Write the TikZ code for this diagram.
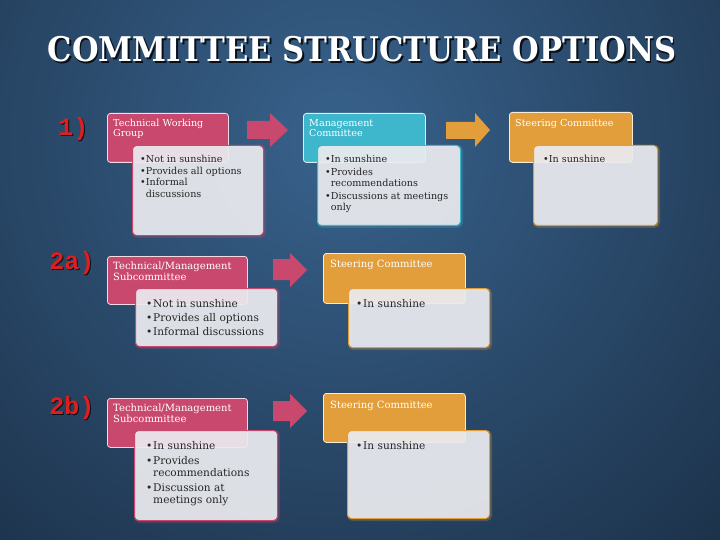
\documentclass[tikz,border=0pt]{standalone}
\usepackage{fontspec}
\setmainfont{DejaVu Serif}
\newfontfamily\monofnt{Liberation Mono}
\definecolor{pinkc}{RGB}{201,72,110}
\definecolor{tealc}{RGB}{62,182,204}
\definecolor{orangec}{RGB}{226,158,58}
\definecolor{detfill}{RGB}{234,235,239}
\definecolor{bgin}{RGB}{56,98,140}
\definecolor{bgout}{RGB}{12,22,36}
\definecolor{labred}{RGB}{225,30,30}
\definecolor{shadowc}{RGB}{10,16,26}
\tikzset{
  hdr/.style={draw=white!80!#1, line width=0.8pt, fill=#1, rounded corners=3pt, anchor=north west, inner sep=0pt},
  det/.style={draw=#1, line width=1pt, fill=detfill, fill opacity=0.93, rounded corners=4pt, anchor=north west, inner sep=0pt},
  glow/.style={draw=#1, line width=3pt, draw opacity=0.25, rounded corners=4pt, anchor=north west, inner sep=0pt},
  htextA/.style={text=white, font=\fontsize{9.6}{10.5}\selectfont, align=left, anchor=north west, inner sep=0pt},
  htextB/.style={text=white, font=\fontsize{10}{11}\selectfont, align=left, anchor=north west, inner sep=0pt},
  btextA/.style={text=black!85, font=\fontsize{9.6}{11.6}\selectfont, align=left, anchor=north west, inner sep=0pt},
  btextB/.style={text=black!85, font=\fontsize{9.6}{11}\selectfont, align=left, anchor=north west, inner sep=0pt},
  btextC/.style={text=black!85, font=\fontsize{10.6}{14.3}\selectfont, align=left, anchor=north west, inner sep=0pt},
  btextD/.style={text=black!85, font=\fontsize{10.6}{12.5}\selectfont, align=left, anchor=north west, inner sep=0pt},
  lab/.style={text=labred, font=\monofnt\bfseries\fontsize{25}{30}\selectfont, inner sep=0pt},
  ttl/.style={text=white, font=\bfseries\fontsize{34}{40}\selectfont, inner sep=0pt},
}
\newcommand{\bl}{\makebox[7pt][l]{\textbullet}}
\newcommand{\bi}{\hspace*{7pt}}
\newcommand{\shadowed}[2]{\makebox[0pt][l]{\hspace{#1}\raisebox{-#1}{\color{shadowc}#2}}#2}
\begin{document}
\begin{tikzpicture}[x=1pt,y=-1pt]
\useasboundingbox (0,0) rectangle (720,540);
% background
\fill[bgout] (0,0) rectangle (720,540);
\begin{scope}
  \clip (0,0) rectangle (720,540);
  \shade[inner color=bgin, outer color=bgout] (340,140) circle (880pt);
\end{scope}

% title
\node[ttl] (title) at (362,50) {\scalebox{0.9}[1]{\shadowed{2pt}{COMMITTEE STRUCTURE OPTIONS}}};

% labels
\node[lab] (l1) at (73.5,130) {\shadowed{1pt}{1)}};
\node[lab] (l2a) at (72,264) {\shadowed{1pt}{2a)}};
\node[lab] (l2b) at (72,409) {\shadowed{1pt}{2b)}};

% ---------- Row 1 ----------
\node[hdr=pinkc, minimum width=121pt, minimum height=49pt] (h1) at (107,113) {};
\node[htextA] (h1t) at (113,119) {Technical Working\\Group};
\node[glow=pinkc, minimum width=131pt, minimum height=90pt] (d1g) at (132,145) {};
\node[det=pinkc, minimum width=131pt, minimum height=90pt] (d1) at (132,145) {};
\node[btextA] (d1t) at (140,155) {\textbullet Not in sunshine\\\textbullet Provides all options\\\textbullet Informal\\\hphantom{\textbullet}discussions};

\fill[pinkc] (247,121) -- (270,121) -- (270,113) -- (288,130) -- (270,147) -- (270,139) -- (247,139) -- cycle;

\node[hdr=tealc, minimum width=122pt, minimum height=49pt] (h2) at (303,113) {};
\node[htextA] (h2t) at (309,119) {Management\\Committee};
\node[glow=tealc, minimum width=143pt, minimum height=80pt] (d2g) at (317,145) {};
\node[det=tealc, minimum width=143pt, minimum height=80pt] (d2) at (317,145) {};
\node[btextB] (d2t) at (325,155) {\textbullet In sunshine\\[2pt]\textbullet Provides\\\hphantom{\textbullet}recommendations\\[2pt]\textbullet Discussions at meetings\\\hphantom{\textbullet}only};

\fill[orangec] (446,122) -- (475,122) -- (475,113) -- (490,130) -- (475,147) -- (475,139) -- (446,139) -- cycle;

\node[hdr=orangec, minimum width=123pt, minimum height=50pt] (h3) at (509,112) {};
\node[htextA] (h3t) at (515,119) {Steering Committee};
\node[glow=orangec, minimum width=124pt, minimum height=80pt] (d3g) at (533,145) {};
\node[det=orangec, minimum width=124pt, minimum height=80pt] (d3) at (533,145) {};
\node[btextA] (d3t) at (543,155) {\textbullet In sunshine};

% ---------- Row 2a ----------
\node[hdr=pinkc, minimum width=140pt, minimum height=48pt] (h4) at (107,256) {};
\node[htextB] (h4t) at (113,262) {Technical/Management\\Subcommittee};
\node[glow=pinkc, minimum width=142pt, minimum height=58pt] (d4g) at (135,288) {};
\node[det=pinkc, minimum width=142pt, minimum height=58pt] (d4) at (135,288) {};
\node[btextC] (d4t) at (146,299) {\bl Not in sunshine\\\bl Provides all options\\\bl Informal discussions};

\fill[pinkc] (273,259) -- (290,259) -- (290,253) -- (307,270) -- (290,287) -- (290,280) -- (273,280) -- cycle;

\node[hdr=orangec, minimum width=142pt, minimum height=50pt] (h5) at (323,253) {};
\node[htextB] (h5t) at (330,260) {Steering Committee};
\node[glow=orangec, minimum width=141pt, minimum height=59pt] (d5g) at (348,288) {};
\node[det=orangec, minimum width=141pt, minimum height=59pt] (d5) at (348,288) {};
\node[btextC] (d5t) at (356,299) {\bl In sunshine};

% ---------- Row 2b ----------
\node[hdr=pinkc, minimum width=140pt, minimum height=49pt] (h6) at (107,398) {};
\node[htextB] (h6t) at (113,404) {Technical/Management\\Subcommittee};
\node[glow=pinkc, minimum width=143pt, minimum height=90pt] (d6g) at (134,430) {};
\node[det=pinkc, minimum width=143pt, minimum height=90pt] (d6) at (134,430) {};
\node[btextD] (d6t) at (146,441.5) {\bl In sunshine\\[2pt]\bl Provides\\\bi recommendations\\[2pt]\bl Discussion at\\\bi meetings only};

\fill[pinkc] (273,401) -- (290,401) -- (290,394) -- (307,411) -- (290,428) -- (290,421) -- (273,421) -- cycle;

\node[hdr=orangec, minimum width=142pt, minimum height=49pt] (h7) at (323,393) {};
\node[htextB] (h7t) at (330,401) {Steering Committee};
\node[glow=orangec, minimum width=142pt, minimum height=88pt] (d7g) at (347,430) {};
\node[det=orangec, minimum width=142pt, minimum height=88pt] (d7) at (347,430) {};
\node[btextC] (d7t) at (356,441.5) {\bl In sunshine};
\end{tikzpicture}
\end{document}
